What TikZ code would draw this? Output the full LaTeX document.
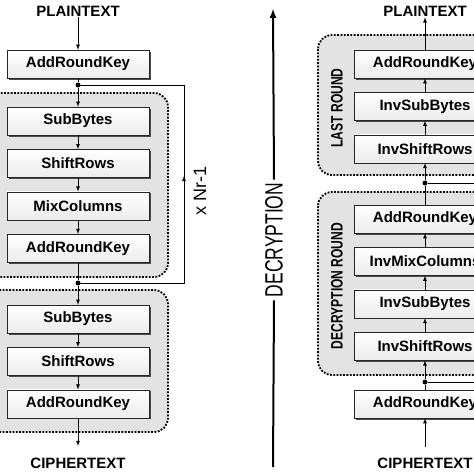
\documentclass[tikz,border=0pt]{standalone}
\usepackage{fontspec}
\newfontfamily\hv{Liberation Sans}
\usetikzlibrary{arrows, positioning, calc, shadows, decorations.markings}
\tikzset{
  stepbox/.style={draw=black!85,top color=white,bottom color=gray!15,minimum width=142pt,minimum height=28pt,inner sep=0pt,
    font=\hv\bfseries\fontsize{15}{17}\selectfont,
    drop shadow={shadow xshift=1.6pt,shadow yshift=-1.6pt,fill=black!70,opacity=1}},
  roundbox/.style={draw=black,line width=1.8pt,dash pattern=on 1.8pt off 1.5pt,rounded corners=14pt,fill=gray!22},
  endtext/.style={font=\hv\bfseries\fontsize{15}{17}\selectfont,inner sep=1pt},
  flow/.style={thick,-latex,black},
  junction/.style={circle,fill=black,inner sep=0pt,minimum size=5pt},
  roundlabel/.style={rotate=90,inner sep=0pt,font=\hv\bfseries\fontsize{16.5}{18}\selectfont},
  looparrow/.style={semithick,black,decoration={markings,mark=at position 0.52 with {\arrow[thick]{latex}}},postaction={decorate}},
}

\begin{document}
\begin{tikzpicture}[x=1pt,y=-1pt]
	    \useasboundingbox (0,0) rectangle (474,474);
	    \clip (0,0) rectangle (474,474);
	    % round containers
	    \draw[roundbox] (-14,93) rectangle (168,277);
	    \draw[roundbox] (-14,290) rectangle (168,432);
	    \draw[roundbox] (318,35) rectangle (500,175);
	    \draw[roundbox] (318,192) rectangle (500,375);
	    % encryption column
	    \node[endtext] (P1) at (78,11) {PLAINTEXT};
	    \node[stepbox] (E1) at (78,64) {AddRoundKey};
	    \node[stepbox] (E2) at (78,121) {SubBytes};
	    \node[stepbox,below=14pt of E2] (E3) {ShiftRows};
	    \node[stepbox,below=14pt of E3] (E4) {MixColumns};
	    \node[stepbox,below=14pt of E4] (E5) {AddRoundKey};
	    \node[stepbox] (E6) at (78,319) {SubBytes};
	    \node[stepbox,below=14pt of E6] (E7) {ShiftRows};
	    \node[stepbox,below=14pt of E7] (E8) {AddRoundKey};
	    \node[endtext] (C1) at (78,463) {CIPHERTEXT};
	    \coordinate (C1in) at (78,446);
	    \node[junction] (J1) at (78,85) {};
	    \node[junction] (J2) at (78,283) {};
	    \coordinate (L1) at (184,85);
	    \coordinate (L2) at (184,283);
	    \draw[flow] (P1) -- (E1);
	    \draw[thick] (E1) -- (J1);
	    \draw[flow] (J1) -- (E2);
	    \draw[flow] (E2) -- (E3);
	    \draw[flow] (E3) -- (E4);
	    \draw[flow] (E4) -- (E5);
	    \draw[thick] (E5) -- (J2);
	    \draw[flow] (J2) -- (E6);
	    \draw[flow] (E6) -- (E7);
	    \draw[flow] (E7) -- (E8);
	    \draw[flow] (E8) -- (C1in);
	    \draw[looparrow] (J2.center) -- (L2) -- (L1) -- (J1.center);
	    \node[rotate=90,font=\hv\fontsize{18}{20}\selectfont] (NR) at (200,191) {x Nr-1};
	    % direction arrow
	    \node[rotate=90,inner sep=3pt,font=\hv\fontsize{25}{28}\selectfont] (DEC) at (274,240) {\scalebox{0.7}[1]{DECRYPTION}};
	    \coordinate (Dtop) at (273,9);
	    \coordinate (Dbot) at (273,467);
	    \draw[line width=2pt] (Dbot) -- (DEC.west);
	    \draw[line width=2pt,-latex] (DEC.east) -- (Dtop);
	    % decryption column
	    \node[roundlabel] (LR) at (337,108) {\scalebox{0.73}[1]{LAST ROUND}};
	    \node[roundlabel] (DR) at (337,286) {\scalebox{0.73}[1]{DECRYPTION ROUND}};
	    \node[endtext] (P2) at (425,11) {PLAINTEXT};
	    \node[stepbox] (D1) at (425,64) {AddRoundKey};
	    \node[stepbox,below=14pt of D1] (D2) {InvSubBytes};
	    \node[stepbox,below=14pt of D2] (D3) {InvShiftRows};
	    \node[stepbox] (D4) at (425,219) {AddRoundKey};
	    \node[stepbox,below=14pt of D4] (D5) {InvMixColumns};
	    \node[stepbox,below=14pt of D5] (D6) {InvSubBytes};
	    \node[stepbox,below=14pt of D6] (D7) {InvShiftRows};
	    \node[stepbox] (D8) at (425,404) {AddRoundKey};
	    \node[endtext] (C2) at (425,463) {CIPHERTEXT};
	    \coordinate (C2out) at (425,447);
	    \node[junction] (J3) at (425,183) {};
	    \node[junction] (J4) at (425,382) {};
	    \coordinate (R3) at (490,183);
	    \coordinate (R4) at (490,382);
	    \draw[flow] (C2out) -- (D8);
	    \draw[thick] (D8) -- (J4);
	    \draw[flow] (J4) -- (D7);
	    \draw[flow] (D7) -- (D6);
	    \draw[flow] (D6) -- (D5);
	    \draw[flow] (D5) -- (D4);
	    \draw[thick] (D4) -- (J3);
	    \draw[flow] (J3) -- (D3);
	    \draw[flow] (D3) -- (D2);
	    \draw[flow] (D2) -- (D1);
	    \draw[flow] (D1) -- (P2);
	    \draw[thick] (J3) -- (R3);
	    \draw[thick] (J4) -- (R4);
	\end{tikzpicture}
\end{document}
